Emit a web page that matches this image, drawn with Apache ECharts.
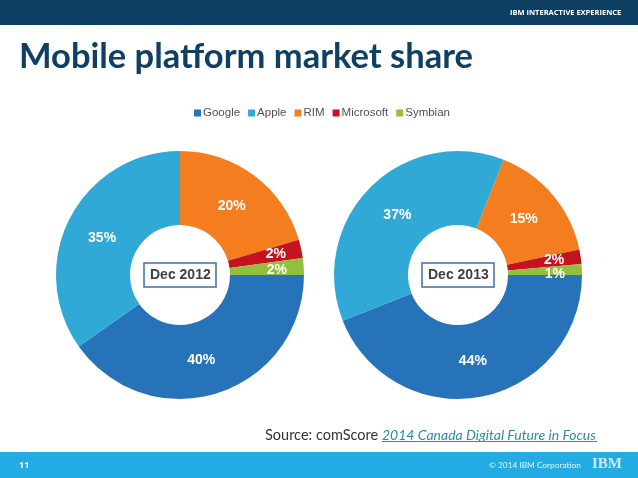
<!DOCTYPE html>
<html>
<head>
<meta charset="utf-8">
<style>
html, body { margin: 0; padding: 0; background: #fff; }
#chart { width: 638px; height: 478px; }
</style>
<script src="https://cdn.jsdelivr.net/npm/echarts@6/dist/echarts.min.js"></script>
</head>
<body>
<div id="chart"></div>
<script>
const platforms = ['Google', 'Apple', 'RIM', 'Microsoft', 'Symbian'];
const colors = ['#2673b9', '#31a9d6', '#f47d20', '#c5121f', '#93c03c'];
const periods = ['Dec 2012', 'Dec 2013'];
const share2012 = [40.2, 34.8, 20.4, 2.4, 2.2];
const share2013 = [44, 37, 15.7, 1.9, 1.4];
const printed2012 = [40, 35, 20, 2, 2];
const printed2013 = [44, 37, 15, 2, 1];

// label nudges, the slide did not keep labels in the ring centre
const nudge2012 = [[-6, -1], [2, 5], [-2, 3], [8, -2], [7, 1]];
const nudge2013 = [[-2, -2], [3, 4], [-3, 2], [7, -2], [7, 3]];

function pieSeries(center, values, printed, nudge) {
    return {
        type: 'pie',
        center: center,
        radius: [50, 124],
        startAngle: 0,
        clockwise: true,
        silent: true,
        animation: false,
        avoidLabelOverlap: false,
        labelLayout: { hideOverlap: false },
        label: { show: true, position: 'inside' },
        labelLine: { show: false },
        data: values.map(function (v, i) {
            return {
                name: platforms[i],
                value: v,
                itemStyle: { color: colors[i] },
                label: {
                    formatter: printed[i] + '%',
                    offset: nudge[i],
                    color: '#fff',
                    fontFamily: 'Liberation Sans',
                    fontWeight: 'bold',
                    fontSize: 14
                }
            };
        })
    };
}

function periodBox(text, left) {
    return {
        text: text,
        left: left,
        top: 263,
        padding: [4, 6, 4, 6],
        borderColor: '#3f6fa8',
        borderWidth: 1.5,
        backgroundColor: '#fff',
        textStyle: { fontFamily: 'Liberation Sans', fontSize: 14, fontWeight: 'bold', color: '#404040', lineHeight: 16 }
    };
}

function slideText(x, y, text, font, fill) {
    return { type: 'text', x: x, y: y, z: 10, style: { text: text, font: font, fill: fill, textVerticalAlign: 'middle' } };
}

const chart = echarts.init(document.getElementById('chart'), null, { renderer: 'canvas' });
chart.setOption({
    backgroundColor: '#fff',
    animation: false,
    color: colors,
    title: [periodBox(periods[0], 144), periodBox(periods[1], 422)],
    legend: {
        data: platforms,
        top: 107,
        left: 194,
        padding: 0,
        itemWidth: 7,
        itemHeight: 7,
        itemGap: 8,
        icon: 'rect',
        textStyle: { fontFamily: 'Liberation Sans', fontSize: 11.5, color: '#505050', padding: [0, 0, 0, -3] }
    },
    series: [
        pieSeries([180, 275], share2012, printed2012, nudge2012),
        pieSeries([458, 275], share2013, printed2013, nudge2013)
    ],
    graphic: [
        { type: 'rect', shape: { x: 0, y: 0, width: 638, height: 25 }, style: { fill: '#0d3f63' }, z: 1 },
        { type: 'rect', shape: { x: 0, y: 452, width: 638, height: 26 }, style: { fill: '#22ace3' }, z: 1 },
        slideText(510, 12.5, 'IBM INTERACTIVE EXPERIENCE', 'bold 7.5px "Open Sans"', '#fff'),
        slideText(19, 57, 'Mobile platform market share', 'bold 34.5px Lato', '#0f3f62'),
        slideText(265, 435, 'Source: comScore', '14.5px Lato', '#333'),
        slideText(382, 435, '2014 Canada Digital Future in Focus', 'italic 14px Lato', '#2b8ba8'),
        { type: 'rect', shape: { x: 382, y: 441, width: 215, height: 1 }, style: { fill: '#2b8ba8' }, z: 10 },
        slideText(19, 465, '11', 'bold 9px "Open Sans"', '#fff'),
        slideText(489, 465, '\u00a9 2014 IBM Corporation', '8.3px Lato', '#e8f5fb'),
        slideText(592, 464, 'IBM', 'bold 15px "Liberation Serif"', '#cfe9f6')
    ]
});
</script>
</body>
</html>
